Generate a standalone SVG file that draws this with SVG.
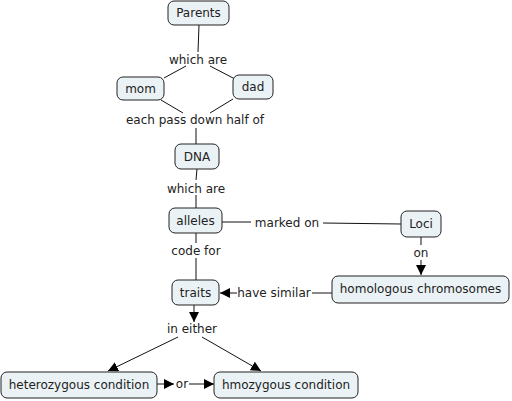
<svg xmlns="http://www.w3.org/2000/svg" width="512" height="401" viewBox="0 0 512 401">
<style>
.n rect{fill:#ebf2f5;stroke:#222;stroke-width:1}
text{font-family:"DejaVu Sans",Verdana,sans-serif;font-size:12px;fill:#222;text-anchor:middle}
.c line{stroke:#111;stroke-width:1}
</style>
<defs>
<marker id="a" markerUnits="userSpaceOnUse" markerWidth="11" markerHeight="11" refX="10" refY="5" orient="auto">
<path d="M0,0 L10,5 L0,10 Z" fill="#000"/>
</marker>
</defs>
<rect width="512" height="401" fill="#fff"/>
<g class="c">
<line x1="199" y1="25" x2="198" y2="52"/>
<line x1="186" y1="66" x2="164" y2="78"/>
<line x1="210" y1="66" x2="235" y2="79"/>
<line x1="161" y1="100" x2="183" y2="113"/>
<line x1="233" y1="99" x2="210" y2="113"/>
<line x1="196" y1="128" x2="196" y2="144"/>
<line x1="197" y1="169" x2="196" y2="180"/>
<line x1="196" y1="195" x2="196" y2="208"/>
<line x1="222" y1="222" x2="251" y2="222"/>
<line x1="323" y1="223" x2="401" y2="224"/>
<line x1="196" y1="233" x2="196" y2="243"/>
<line x1="196" y1="258" x2="196" y2="280"/>
<line x1="421" y1="237" x2="421" y2="245"/>
<line x1="421" y1="260" x2="421" y2="275" marker-end="url(#a)"/>
<line x1="332" y1="293" x2="312" y2="293"/>
<line x1="237" y1="293" x2="220" y2="293" marker-end="url(#a)"/>
<line x1="194" y1="305" x2="194" y2="322" marker-end="url(#a)"/>
<line x1="178" y1="337" x2="108" y2="371" marker-end="url(#a)"/>
<line x1="202" y1="337" x2="261" y2="371" marker-end="url(#a)"/>
<line x1="157" y1="384" x2="174" y2="384" marker-end="url(#a)"/>
<line x1="189" y1="384" x2="214" y2="384" marker-end="url(#a)"/>
<text x="198" y="64">which are</text>
<text x="195" y="124">each pass down half of</text>
<text x="196" y="193">which are</text>
<text x="287" y="227">marked on</text>
<text x="196" y="255">code for</text>
<text x="421" y="257">on</text>
<text x="274" y="297">have similar</text>
<text x="192" y="333">in either</text>
<text x="182" y="388">or</text>
</g>
<g id="parents" class="n"><rect x="168" y="1" width="61" height="24" rx="6"/><text x="198.5" y="17">Parents</text></g>
<g id="mom" class="n"><rect x="117" y="77" width="47" height="23" rx="6"/><text x="140.5" y="93">mom</text></g>
<g id="dad" class="n"><rect x="233" y="75" width="40" height="24" rx="6"/><text x="253" y="91">dad</text></g>
<g id="dna" class="n"><rect x="175" y="144" width="44" height="25" rx="6"/><text x="197" y="161">DNA</text></g>
<g id="alleles" class="n"><rect x="169" y="208" width="53" height="25" rx="6"/><text x="195.5" y="225">alleles</text></g>
<g id="loci" class="n"><rect x="401" y="211" width="40" height="26" rx="6"/><text x="421" y="228">Loci</text></g>
<g id="homologous" class="n"><rect x="332" y="276" width="177" height="27" rx="6"/><text x="420.5" y="293">homologous chromosomes</text></g>
<g id="traits" class="n"><rect x="172" y="280" width="47" height="25" rx="6"/><text x="195.5" y="297">traits</text></g>
<g id="hetero" class="n"><rect x="1" y="372" width="156" height="26" rx="6"/><text x="79" y="389">heterozygous condition</text></g>
<g id="hmozygous" class="n"><rect x="214" y="372" width="144" height="26" rx="6"/><text x="286" y="389">hmozygous condition</text></g>
</svg>
